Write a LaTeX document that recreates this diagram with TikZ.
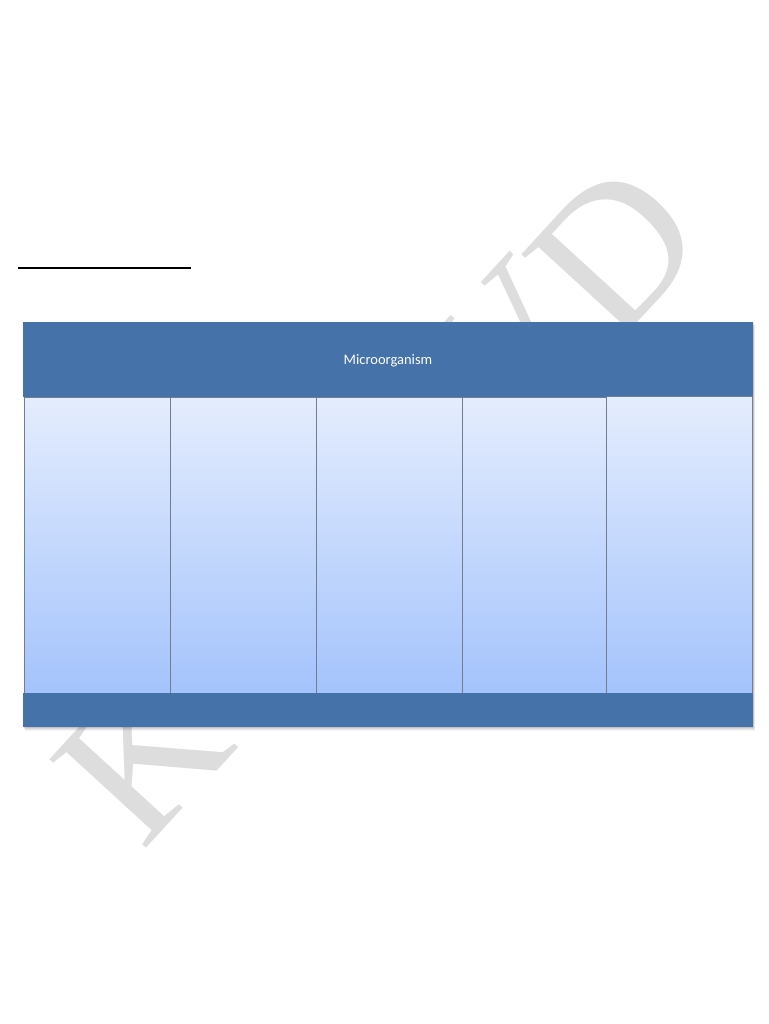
\documentclass[tikz,border=0pt]{standalone}
\usepackage{fontspec}
\setmainfont{Liberation Serif}
\newfontfamily\calib{Carlito}
\definecolor{hdr}{RGB}{69,114,168}
\definecolor{ptop}{RGB}{228,237,253}
\definecolor{pbot}{RGB}{164,195,252}
\definecolor{pline}{RGB}{115,125,145}
\definecolor{wm}{RGB}{221,221,221}
\begin{document}
\begin{tikzpicture}[x=1pt,y=-1pt,
  wmark/.style={text=wm, font=\fontsize{200}{200}\selectfont, rotate=47.5, inner sep=0pt},
  bar/.style={fill=hdr, draw=none, inner sep=0pt, anchor=north west},
  panel/.style={draw=pline, line width=0.8pt, top color=ptop, bottom color=pbot, inner sep=0pt, anchor=north west, minimum height=296pt},
  shadowbox/.style={fill=black, draw=none}]
\useasboundingbox[fill=white] (0,0) rectangle (768,1024);
% watermark
\node[wmark] (wk) at (143,755) {K};
\node[wmark] (wv) at (512,348) {V};
\node[wmark] (wd) at (615,250) {D};
% underline
\coordinate (la) at (18,268);
\coordinate (lb) at (191,268);
\draw[line width=2pt] (la) -- (lb);
% shadow
\foreach \o/\op in {4/0.04,3/0.05,2/0.07,1/0.09}{
  \fill[shadowbox, opacity=\op] (23+0.5*\o,322+\o) rectangle (753+0.5*\o,727+\o);
}
% header
\node[bar, minimum width=730pt, minimum height=75pt] (head) at (23,322) {};
\node[text=white, font=\calib\fontsize{14.5}{17}\selectfont] (title) at (388,360.5) {Microorganism};
% panels
\node[panel, minimum width=146pt] (p1) at (24,397) {};
\node[panel, minimum width=146pt] (p2) at (170,397) {};
\node[panel, minimum width=146pt] (p3) at (316,397) {};
\node[panel, minimum width=144pt] (p4) at (462,397) {};
\node[panel, minimum width=146pt, minimum height=297pt] (p5) at (606,396) {};
% footer
\node[bar, minimum width=730pt, minimum height=34pt] (foot) at (23,693) {};
\end{tikzpicture}
\end{document}
